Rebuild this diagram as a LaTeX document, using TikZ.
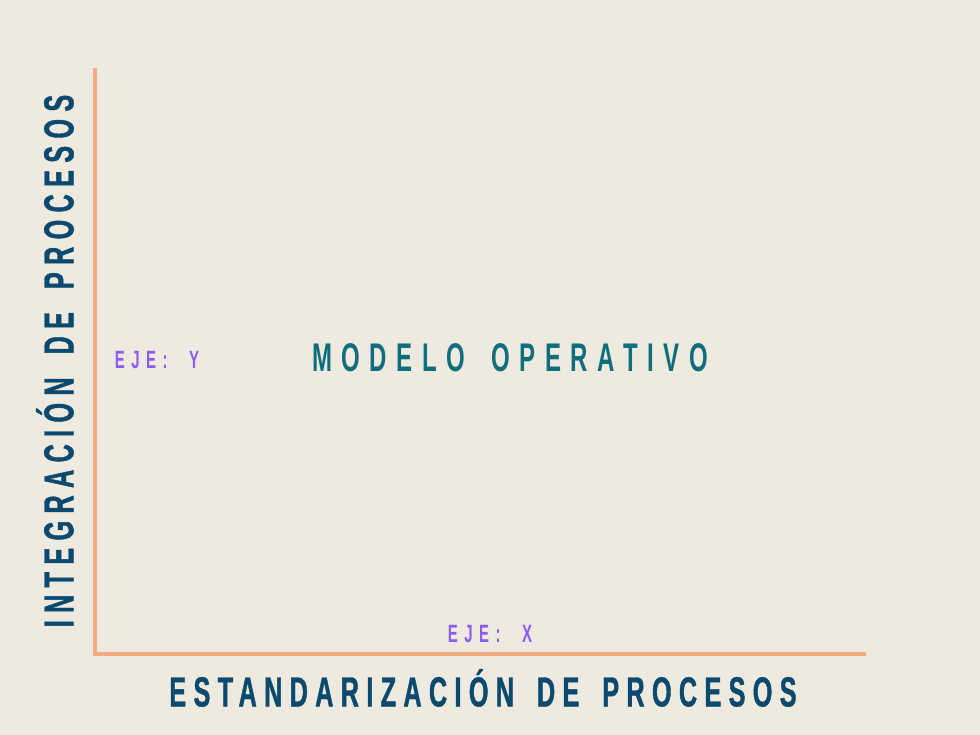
\documentclass[tikz,border=0pt]{standalone}
\usepackage{fontspec}
\usepackage{tikz}
\usetikzlibrary{positioning}
\newfontfamily\axisfont[FakeStretch=0.6,FakeBold=1,LetterSpace=17.5,WordSpace=1.6]{Liberation Sans Bold}
\newfontfamily\modelfont[FakeStretch=0.6,LetterSpace=24,WordSpace=1.6]{Liberation Sans Bold}
\newfontfamily\tagfont[FakeStretch=0.6,LetterSpace=26,WordSpace=2]{Liberation Sans Bold}
\definecolor{paper}{HTML}{EFEADF}
\definecolor{axisorange}{HTML}{F0AB7E}
\definecolor{titleblue}{HTML}{0B4A6E}
\definecolor{modelteal}{HTML}{0F6E7E}
\definecolor{tagpurple}{HTML}{8C5CF2}

\begin{document}
\begin{tikzpicture}[x=1pt, y=-1pt]
                    \fill [paper] (0, 0) rectangle (980, 735);
                    \useasboundingbox (0, 0) rectangle (980, 735);

                    \coordinate (ytop) at (95, 68);
                    \coordinate (origin) at (95, 654);
                    \coordinate (xend) at (866, 654);

                    \node [text = titleblue, font = \axisfont\fontsize{42}{42}\selectfont] (xtitle) at (483, 688) {ESTANDARIZACIÓN DE PROCESOS};
                    \node [text = titleblue, font = \axisfont\fontsize{42}{42}\selectfont, rotate = 90] (ytitle) at (55, 361) {INTEGRACIÓN DE PROCESOS};
                    \node [text = modelteal, font = \modelfont\fontsize{40}{40}\selectfont] (model) at (510, 358) {MODELO OPERATIVO};
                    \node [text = tagpurple, font = \tagfont\fontsize{25}{25}\selectfont] (ejey) at (157, 360) {EJE: Y};
                    \node [text = tagpurple, font = \tagfont\fontsize{25}{25}\selectfont] (ejex) at (490, 634) {EJE: X};

                    \draw [axisorange, line width = 4] (ytop) -- (origin) -- (xend);
                \end{tikzpicture}
\end{document}
